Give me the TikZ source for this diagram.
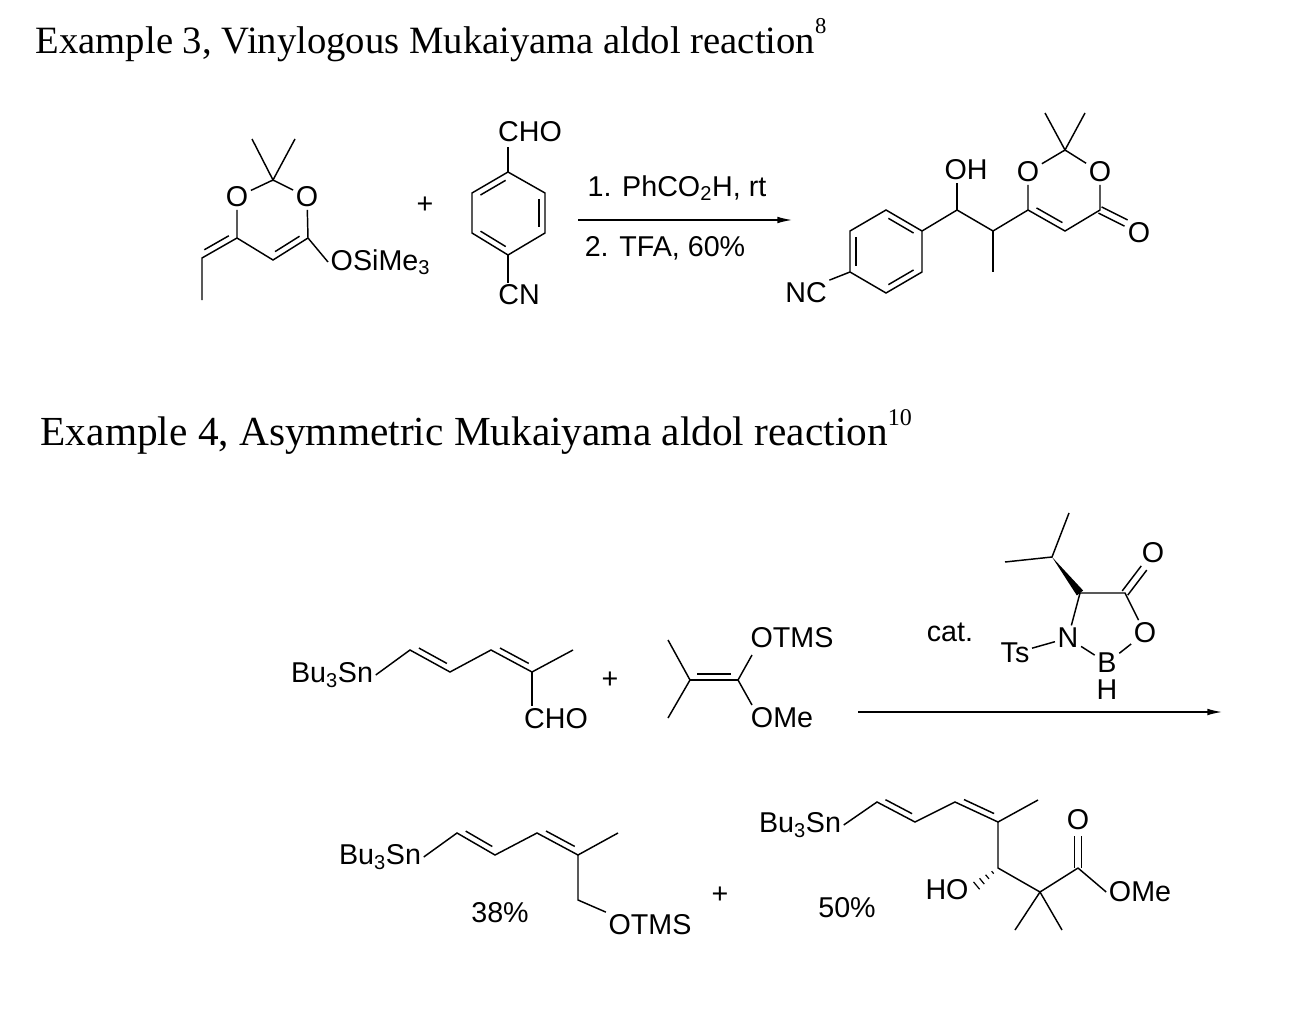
\documentclass[tikz,border=0pt]{standalone}
\usepackage{fontspec}
\setmainfont{Liberation Serif}
\setsansfont{Liberation Sans}
\usetikzlibrary{calc,arrows.meta}
\newcommand\innerb[3]{\draw ($(#1)!0.15!(#2)!4.5pt!#3:(#2)$) -- ($(#2)!0.15!(#1)!4.5pt!-#3:(#1)$);}
\newcommand\dblo[2]{\draw ($(#1)!2.6pt!90:(#2)$)--($(#2)!2.6pt!-90:(#1)$); \draw ($(#1)!2.6pt!-90:(#2)$)--($(#2)!2.6pt!90:(#1)$);}
\begin{document}
\begin{tikzpicture}[x=0.75pt,y=-0.75pt,line width=1.1pt,
  lbl/.style={font=\sffamily\fontsize{21.5}{23}\selectfont,inner sep=1.5pt},
  ttl/.style={anchor=west,inner sep=0pt},
  rarrow/.style={-{Latex[length=11pt,width=5pt]},line width=1pt}]
\useasboundingbox (0,0) rectangle (1303,1027);
% titles
\node[ttl,font=\fontsize{29}{32}\selectfont] (t1) at (35,40) {Example 3, Vinylogous Mukaiyama aldol reaction\raisebox{0.5em}{\fontsize{17}{18}\selectfont 8}};
\node[ttl,font=\fontsize{31}{34}\selectfont] (t2) at (40,432) {Example 4, Asymmetric Mukaiyama aldol reaction\raisebox{0.5em}{\fontsize{18}{18}\selectfont 10}};
% ---------- Example 3 reactant 1
\coordinate (q) at (273,180); \coordinate (m1) at (252,139); \coordinate (m2) at (295,139);
\node[lbl] (o1) at (237,197) {O}; \node[lbl] (o3) at (307,197) {O};
\coordinate (c6) at (237,238); \coordinate (c4) at (308,238); \coordinate (c5) at (273,260);
\coordinate (e1) at (202,258); \coordinate (e2) at (202,300);
\node[lbl,anchor=west] (osi) at (328,262) {OSiMe\textsubscript{3}};
\draw (m1)--(q)--(m2); \draw (q)--(o1)--(c6)--(c5)--(c4)--(o3)--(q);
\draw (c6)--(e1)--(e2); \innerb{c6}{e1}{-90} \innerb{c5}{c4}{90}
\draw (c4)--(osi.west);
\node[lbl] (p1) at (425,205) {+};
% benzaldehyde
\coordinate (b1) at (508,172); \coordinate (b2) at (545,193); \coordinate (b3) at (545,233);
\coordinate (b4) at (508,255); \coordinate (b5) at (472,233); \coordinate (b6) at (472,193);
\draw (b1)--(b2)--(b3)--(b4)--(b5)--(b6)--cycle;
\innerb{b2}{b3}{-90} \innerb{b4}{b5}{-90} \innerb{b6}{b1}{-90}
\node[lbl,anchor=south] (cho) at (530,145) {CHO}; \node[lbl,anchor=north] (cn) at (519,282) {CN};
\draw (b1)--(508,147); \draw (b4)--(508,283);
% arrow
\coordinate (a1) at (578,220); \coordinate (a2) at (792,220);
\draw[rarrow] (a1)--(a2);
\node[lbl] (r1) at (677,188) {1. PhCO\textsubscript{2}H, rt};
\node[lbl] (r2) at (665,248) {2. TFA, 60\%};
% product
\coordinate (d1) at (886,210); \coordinate (d2) at (922,231); \coordinate (d3) at (922,272);
\coordinate (d4) at (886,293); \coordinate (d5) at (850,272); \coordinate (d6) at (850,231);
\draw (d1)--(d2)--(d3)--(d4)--(d5)--(d6)--cycle;
\innerb{d1}{d2}{-90} \innerb{d3}{d4}{-90} \innerb{d5}{d6}{-90}
\node[lbl] (nc) at (806,293) {NC}; \draw (d5)--(nc.north east);
\coordinate (k1) at (957,210); \node[lbl] (oh) at (966,170) {OH};
\coordinate (k2) at (993,231); \coordinate (k2m) at (993,272);
\coordinate (r6) at (1028,210); \node[lbl] (ro1) at (1028,172) {O};
\coordinate (rq) at (1065,150); \coordinate (rm1) at (1045,113); \coordinate (rm2) at (1085,113);
\node[lbl] (ro3) at (1100,172) {O}; \coordinate (r4) at (1100,210);
\node[lbl] (rox) at (1139,233) {O}; \coordinate (roxe) at (1126,223); \coordinate (r5) at (1065,231);
\draw (d2)--(k1)--(k2)--(r6); \draw (k1)--(957,183); \draw (k2)--(k2m);
\draw (r6)--(ro1)--(rq)--(ro3)--(r4)--(r5)--(r6); \draw (rm1)--(rq)--(rm2);
\innerb{r6}{r5}{90}
\dblo{r4}{roxe}
% ---------- Example 4
\node[lbl] (sn1) at (332,675) {Bu\textsubscript{3}Sn};
\coordinate (f1) at (410,650); \coordinate (f2) at (450,672); \coordinate (f3) at (491,650);
\coordinate (f4) at (532,672); \coordinate (f5) at (573,650);
\node[lbl] (cho2) at (556,719) {CHO};
\draw (sn1.east)--(f1)--(f2)--(f3)--(f4)--(f5); \draw (f4)--(532,706);
\innerb{f1}{f2}{90} \innerb{f3}{f4}{90}
\node[lbl] (p2) at (610,680) {+};
\coordinate (g1) at (690,680); \coordinate (g2) at (738,680);
\coordinate (gm1) at (668,640); \coordinate (gm2) at (668,718);
\node[lbl] (otms) at (792,638) {OTMS}; \node[lbl] (ome) at (782,718) {OMe};
\draw (gm1)--(g1)--(gm2); \draw (g1)--(g2); \innerb{g1}{g2}{90}
\draw (g2)--(752,655); \draw (g2)--(752,705);
% catalyst
\node[lbl] (cat) at (950,632) {cat.};
\coordinate (h1) at (1052,557); \coordinate (hm1) at (1069,513); \coordinate (hm2) at (1005,562);
\coordinate (h4) at (1080,593); \coordinate (h5) at (1125,593);
\node[lbl] (ho) at (1153,553) {O}; \coordinate (hoe) at (1144,568);
\node[lbl] (hor) at (1145,633) {O};
\node[lbl] (hn) at (1068,638) {N}; \node[lbl] (hb) at (1107,663) {B}; \node[lbl] (hh) at (1107,690) {H};
\node[lbl] (ts) at (1015,653) {Ts};
\draw (hm1)--(h1)--(hm2);
\fill (h1)--($(h4)!3pt!90:(h1)$)--($(h4)!3pt!-90:(h1)$)--cycle;
\draw (h4)--(h5)--(hor)--(hb)--(hn)--(h4); \draw (ts)--(hn);
\dblo{h5}{hoe}
\coordinate (aa1) at (858,712); \coordinate (aa2) at (1222,712);
\draw[rarrow] (aa1)--(aa2);
% product 1
\node[lbl] (sn2) at (380,857) {Bu\textsubscript{3}Sn};
\coordinate (u1) at (457,833); \coordinate (u2) at (495,855); \coordinate (u3) at (537,833);
\coordinate (u4) at (578,855); \coordinate (u5) at (618,833); \coordinate (u6) at (578,900);
\node[lbl] (otms2) at (650,925) {OTMS};
\draw (sn2.east)--(u1)--(u2)--(u3)--(u4)--(u5); \draw (u4)--(u6)--(otms2.north west);
\innerb{u1}{u2}{90} \innerb{u3}{u4}{90}
\node[lbl] (y1) at (500,913) {38\%};
\node[lbl] (p3) at (720,895) {+};
% product 2
\node[lbl] (sn3) at (800,825) {Bu\textsubscript{3}Sn};
\coordinate (v1) at (877,802); \coordinate (v2) at (915,822); \coordinate (v3) at (955,802);
\coordinate (v4) at (998,822); \coordinate (v5) at (1038,800); \coordinate (v6) at (998,868);
\node[lbl] (vho) at (947,890) {HO};
\coordinate (vq) at (1040,892); \coordinate (vm1) at (1015,930); \coordinate (vm2) at (1062,930);
\coordinate (vc) at (1078,868); \node[lbl] (vo) at (1078,820) {O}; \coordinate (voe) at (1078,836);
\node[lbl] (vome) at (1140,892) {OMe};
\draw (sn3.east)--(v1)--(v2)--(v3)--(v4)--(v5); \draw (v4)--(v6)--(vq)--(vc);
\draw (vm1)--(vq)--(vm2); \draw (vc)--(vome.west);
\innerb{v1}{v2}{90} \innerb{v3}{v4}{90}
\dblo{vc}{voe}
\foreach \t/\w in {0.2/1.2pt,0.4/2pt,0.6/2.8pt,0.8/3.6pt}
  \draw[line width=0.9pt] ($(v6)!\t!(vho.east)!\w!90:(vho.east)$)--($(v6)!\t!(vho.east)!\w!-90:(vho.east)$);
\node[lbl] (y2) at (847,908) {50\%};
\end{tikzpicture}
\end{document}
